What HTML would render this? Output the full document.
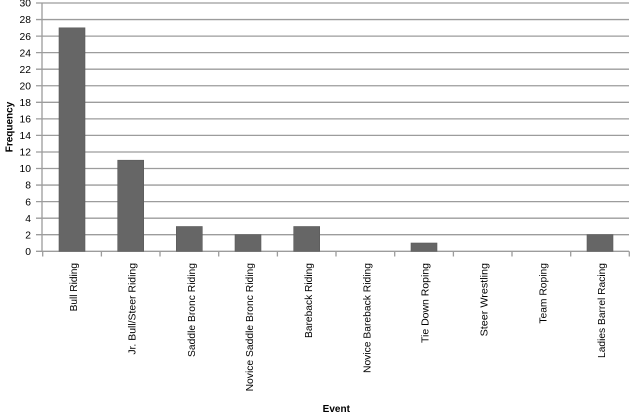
<!DOCTYPE html>
<html><head><meta charset="utf-8"><style>
html,body{margin:0;padding:0;background:#fff;}
svg{display:block;font-family:"Liberation Sans",sans-serif;}
</style></head><body>
<svg width="630" height="413" viewBox="0 0 630 413" xmlns="http://www.w3.org/2000/svg">
<g stroke="#9c9c9c" stroke-width="1.3">
<line x1="36" y1="3.0" x2="629" y2="3.0"/>
<line x1="36" y1="19.55" x2="629" y2="19.55"/>
<line x1="36" y1="36.1" x2="629" y2="36.1"/>
<line x1="36" y1="52.66" x2="629" y2="52.66"/>
<line x1="36" y1="69.2" x2="629" y2="69.2"/>
<line x1="36" y1="85.76" x2="629" y2="85.76"/>
<line x1="36" y1="102.3" x2="629" y2="102.3"/>
<line x1="36" y1="118.86" x2="629" y2="118.86"/>
<line x1="36" y1="135.4" x2="629" y2="135.4"/>
<line x1="36" y1="151.97" x2="629" y2="151.97"/>
<line x1="36" y1="168.5" x2="629" y2="168.5"/>
<line x1="36" y1="185.07" x2="629" y2="185.07"/>
<line x1="36" y1="201.6" x2="629" y2="201.6"/>
<line x1="36" y1="218.17" x2="629" y2="218.17"/>
<line x1="36" y1="234.7" x2="629" y2="234.7"/>
<line x1="36" y1="251.3" x2="629" y2="251.3"/>
<line x1="42" y1="3" x2="42" y2="251.3"/>
<line x1="42.7" y1="251.3" x2="42.7" y2="256.5"/>
<line x1="101.4" y1="251.3" x2="101.4" y2="256.5"/>
<line x1="160" y1="251.3" x2="160" y2="256.5"/>
<line x1="218.7" y1="251.3" x2="218.7" y2="256.5"/>
<line x1="277.4" y1="251.3" x2="277.4" y2="256.5"/>
<line x1="336" y1="251.3" x2="336" y2="256.5"/>
<line x1="394.7" y1="251.3" x2="394.7" y2="256.5"/>
<line x1="453.4" y1="251.3" x2="453.4" y2="256.5"/>
<line x1="512" y1="251.3" x2="512" y2="256.5"/>
<line x1="570.7" y1="251.3" x2="570.7" y2="256.5"/>
<line x1="629.3" y1="251.3" x2="629.3" y2="256.5"/>
</g>
<g fill="#666666" stroke="#5a5a5a" stroke-width="0.6">
<rect x="59" y="27.8" width="26" height="223.5"/>
<rect x="117.7" y="160.2" width="26" height="91.1"/>
<rect x="176.3" y="226.5" width="26" height="24.8"/>
<rect x="235" y="234.7" width="26" height="16.6"/>
<rect x="293.7" y="226.5" width="26" height="24.8"/>
<rect x="411" y="243.0" width="26" height="8.3"/>
<rect x="587" y="234.7" width="26" height="16.6"/>
</g>
<g font-size="10.3" fill="#000" text-anchor="end">
<text x="31" y="6.7">30</text>
<text x="31" y="23.2">28</text>
<text x="31" y="39.8">26</text>
<text x="31" y="56.3">24</text>
<text x="31" y="72.9">22</text>
<text x="31" y="89.4">20</text>
<text x="31" y="106">18</text>
<text x="31" y="122.5">16</text>
<text x="31" y="139.1">14</text>
<text x="31" y="155.6">12</text>
<text x="31" y="172.2">10</text>
<text x="31" y="188.7">8</text>
<text x="31" y="205.3">6</text>
<text x="31" y="221.8">4</text>
<text x="31" y="238.4">2</text>
<text x="31" y="255">0</text>
</g>
<g font-size="10.3" fill="#000" text-anchor="end">
<text transform="translate(77,263) rotate(-90)" textLength="48.4" lengthAdjust="spacingAndGlyphs">Bull Riding</text>
<text transform="translate(135.5,263) rotate(-90)" textLength="91.7" lengthAdjust="spacingAndGlyphs">Jr. Bull/Steer Riding</text>
<text transform="translate(195,263) rotate(-90)" textLength="94" lengthAdjust="spacingAndGlyphs">Saddle Bronc Riding</text>
<text transform="translate(253,263) rotate(-90)" textLength="128.4" lengthAdjust="spacingAndGlyphs">Novice Saddle Bronc Riding</text>
<text transform="translate(312,263) rotate(-90)" textLength="75" lengthAdjust="spacingAndGlyphs">Bareback Riding</text>
<text transform="translate(370.3,263) rotate(-90)" textLength="110" lengthAdjust="spacingAndGlyphs">Novice Bareback Riding</text>
<text transform="translate(428.5,263) rotate(-90)" textLength="80" lengthAdjust="spacingAndGlyphs">Tie Down Roping</text>
<text transform="translate(487.5,263) rotate(-90)" textLength="73.4" lengthAdjust="spacingAndGlyphs">Steer Wrestling</text>
<text transform="translate(546.5,263) rotate(-90)" textLength="60.7" lengthAdjust="spacingAndGlyphs">Team Roping</text>
<text transform="translate(605,263) rotate(-90)" textLength="95" lengthAdjust="spacingAndGlyphs">Ladies Barrel Racing</text>
</g>
<text x="336.3" y="412" font-size="10" font-weight="bold" fill="#000" text-anchor="middle">Event</text>
<text transform="translate(12.5,127) rotate(-90)" font-size="10" font-weight="bold" fill="#000" text-anchor="middle">Frequency</text>
</svg>
</body></html>
